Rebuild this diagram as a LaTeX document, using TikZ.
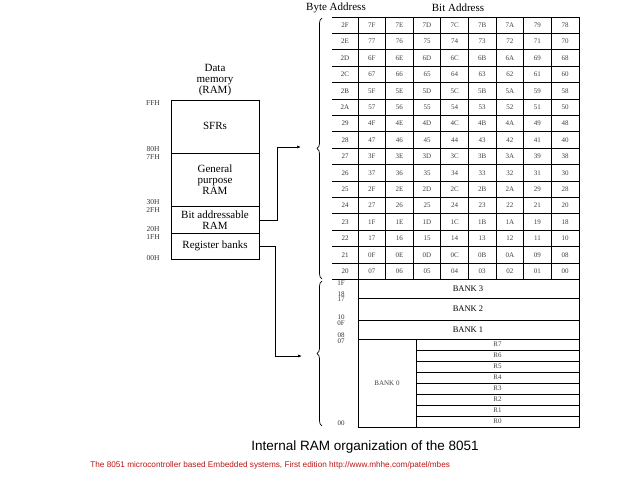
\documentclass[tikz,border=0pt]{standalone}
\usepackage{fontspec}
\setmainfont{Liberation Serif}
\newfontfamily\capfont{Liberation Sans}
\usetikzlibrary{arrows.meta,decorations.pathreplacing}
\begin{document}
\begin{tikzpicture}[x=1pt,y=-1pt,line width=0.8pt,
  lab/.style={font=\fontsize{11}{12}\selectfont,align=center,inner sep=0},
  adr/.style={font=\fontsize{7}{7}\selectfont,inner sep=0,text=black!80},
  cell/.style={font=\fontsize{7}{7}\selectfont,inner sep=0,text=black!75},
  arr/.style={-{Latex[length=4pt,width=3pt]},line width=0.7pt},
  br/.style={decorate,decoration={brace,amplitude=5pt},line width=0.7pt}]
\useasboundingbox (0,0) rectangle (638,479);
% left block
\draw (171,100) rectangle (259,259);
\foreach \y in {153,206,233} \draw (171,\y) -- (259,\y);
\node[lab] (dm) at (215,80) {Data\\[-1pt]memory\\[-1pt](RAM)};
\node[lab] (sfr) at (215,126) {SFRs};
\node[lab] (gp) at (215,180) {General\\[-1pt]purpose\\[-1pt]RAM};
\node[lab] (ba) at (215,220) {Bit addressable\\[-1pt]RAM};
\node[lab] (rb) at (215,246) {Register banks};
\foreach \t/\y in {FFH/103,80H/149,7FH/157,30H/202,2FH/210,20H/229,1FH/237,00H/258}
  \node[adr,font=\fontsize{7.5}{8}\selectfont] at (153,\y) {\t};
% table
\node[lab] (byte) at (336,8) {Byte Address};
\node[lab] (bit) at (458,8) {Bit Address};
\draw (358,17) rectangle (579,427);
\foreach \x in {385.6,413.2,440.8,468.4,496,523.6,551.2} \draw (\x,17) -- (\x,280);
\foreach \k in {0,...,16} \draw (332,17+\k*16.4) -- (579,17+\k*16.4);
\foreach \k in {0,...,15}{
  \pgfmathtruncatemacro{\b}{47-\k}
  \pgfmathparse{Hex(\b)}\let\bh\pgfmathresult
  \node[adr] at (345,25.2+\k*16.4) {\bh};
  \foreach \j in {0,...,7}{
    \pgfmathtruncatemacro{\v}{8*(15-\k)+7-\j}
    \pgfmathparse{Hex(\v)}\let\vh\pgfmathresult
    \ifnum\v<16 \edef\vh{0\vh}\fi
    \node[cell] at (371.8+\j*27.6,25.2+\k*16.4) {\vh};
  }
}
\foreach \y in {298,320,339} \draw (358,\y) -- (579,\y);
\node[lab,font=\fontsize{8.5}{9}\selectfont] (b3) at (468,289) {BANK 3};
\node[lab,font=\fontsize{8.5}{9}\selectfont] (b2) at (468,309) {BANK 2};
\node[lab,font=\fontsize{8.5}{9}\selectfont] (b1) at (468,329.5) {BANK 1};
\draw (416,339) -- (416,427);
\node[cell] (b0) at (387,383) {BANK 0};
\foreach \i in {0,...,7}{
  \pgfmathtruncatemacro{\r}{7-\i}
  \draw (416,339+\i*11) -- (579,339+\i*11);
  \node[cell] at (497.5,344.5+\i*11) {R\r};
}
\foreach \t/\y in {1F/283,18/294,17/299.5,10/317,0F/323,08/335,07/341,00/423}
  \node[adr] at (341,\y) {\t};
% braces
\draw[br] (322,279) -- (322,18) coordinate[pos=0.5] (m1);
\draw[br] (322,426) -- (322,281);
\coordinate (t1) at (301,147);
\coordinate (t2) at (302,356);
% connectors
\draw[arr] (ba.east -| 259,220) -- (277,220) |- (t1);
\draw[arr] (rb.east -| 259,246) -- (275,246) |- (t2);
% captions
\node[font=\capfont\fontsize{13.5}{14}\selectfont,inner sep=0] (cap) at (365,447) {Internal RAM organization of the 8051};
\node[font=\capfont\fontsize{8.2}{9}\selectfont,text={rgb,255:red,190;green,20;blue,20},anchor=west,inner sep=0] (src) at (90,465) {The 8051 microcontroller based Embedded systems, First edition http://www.mhhe.com/patel/mbes};
\end{tikzpicture}
\end{document}
